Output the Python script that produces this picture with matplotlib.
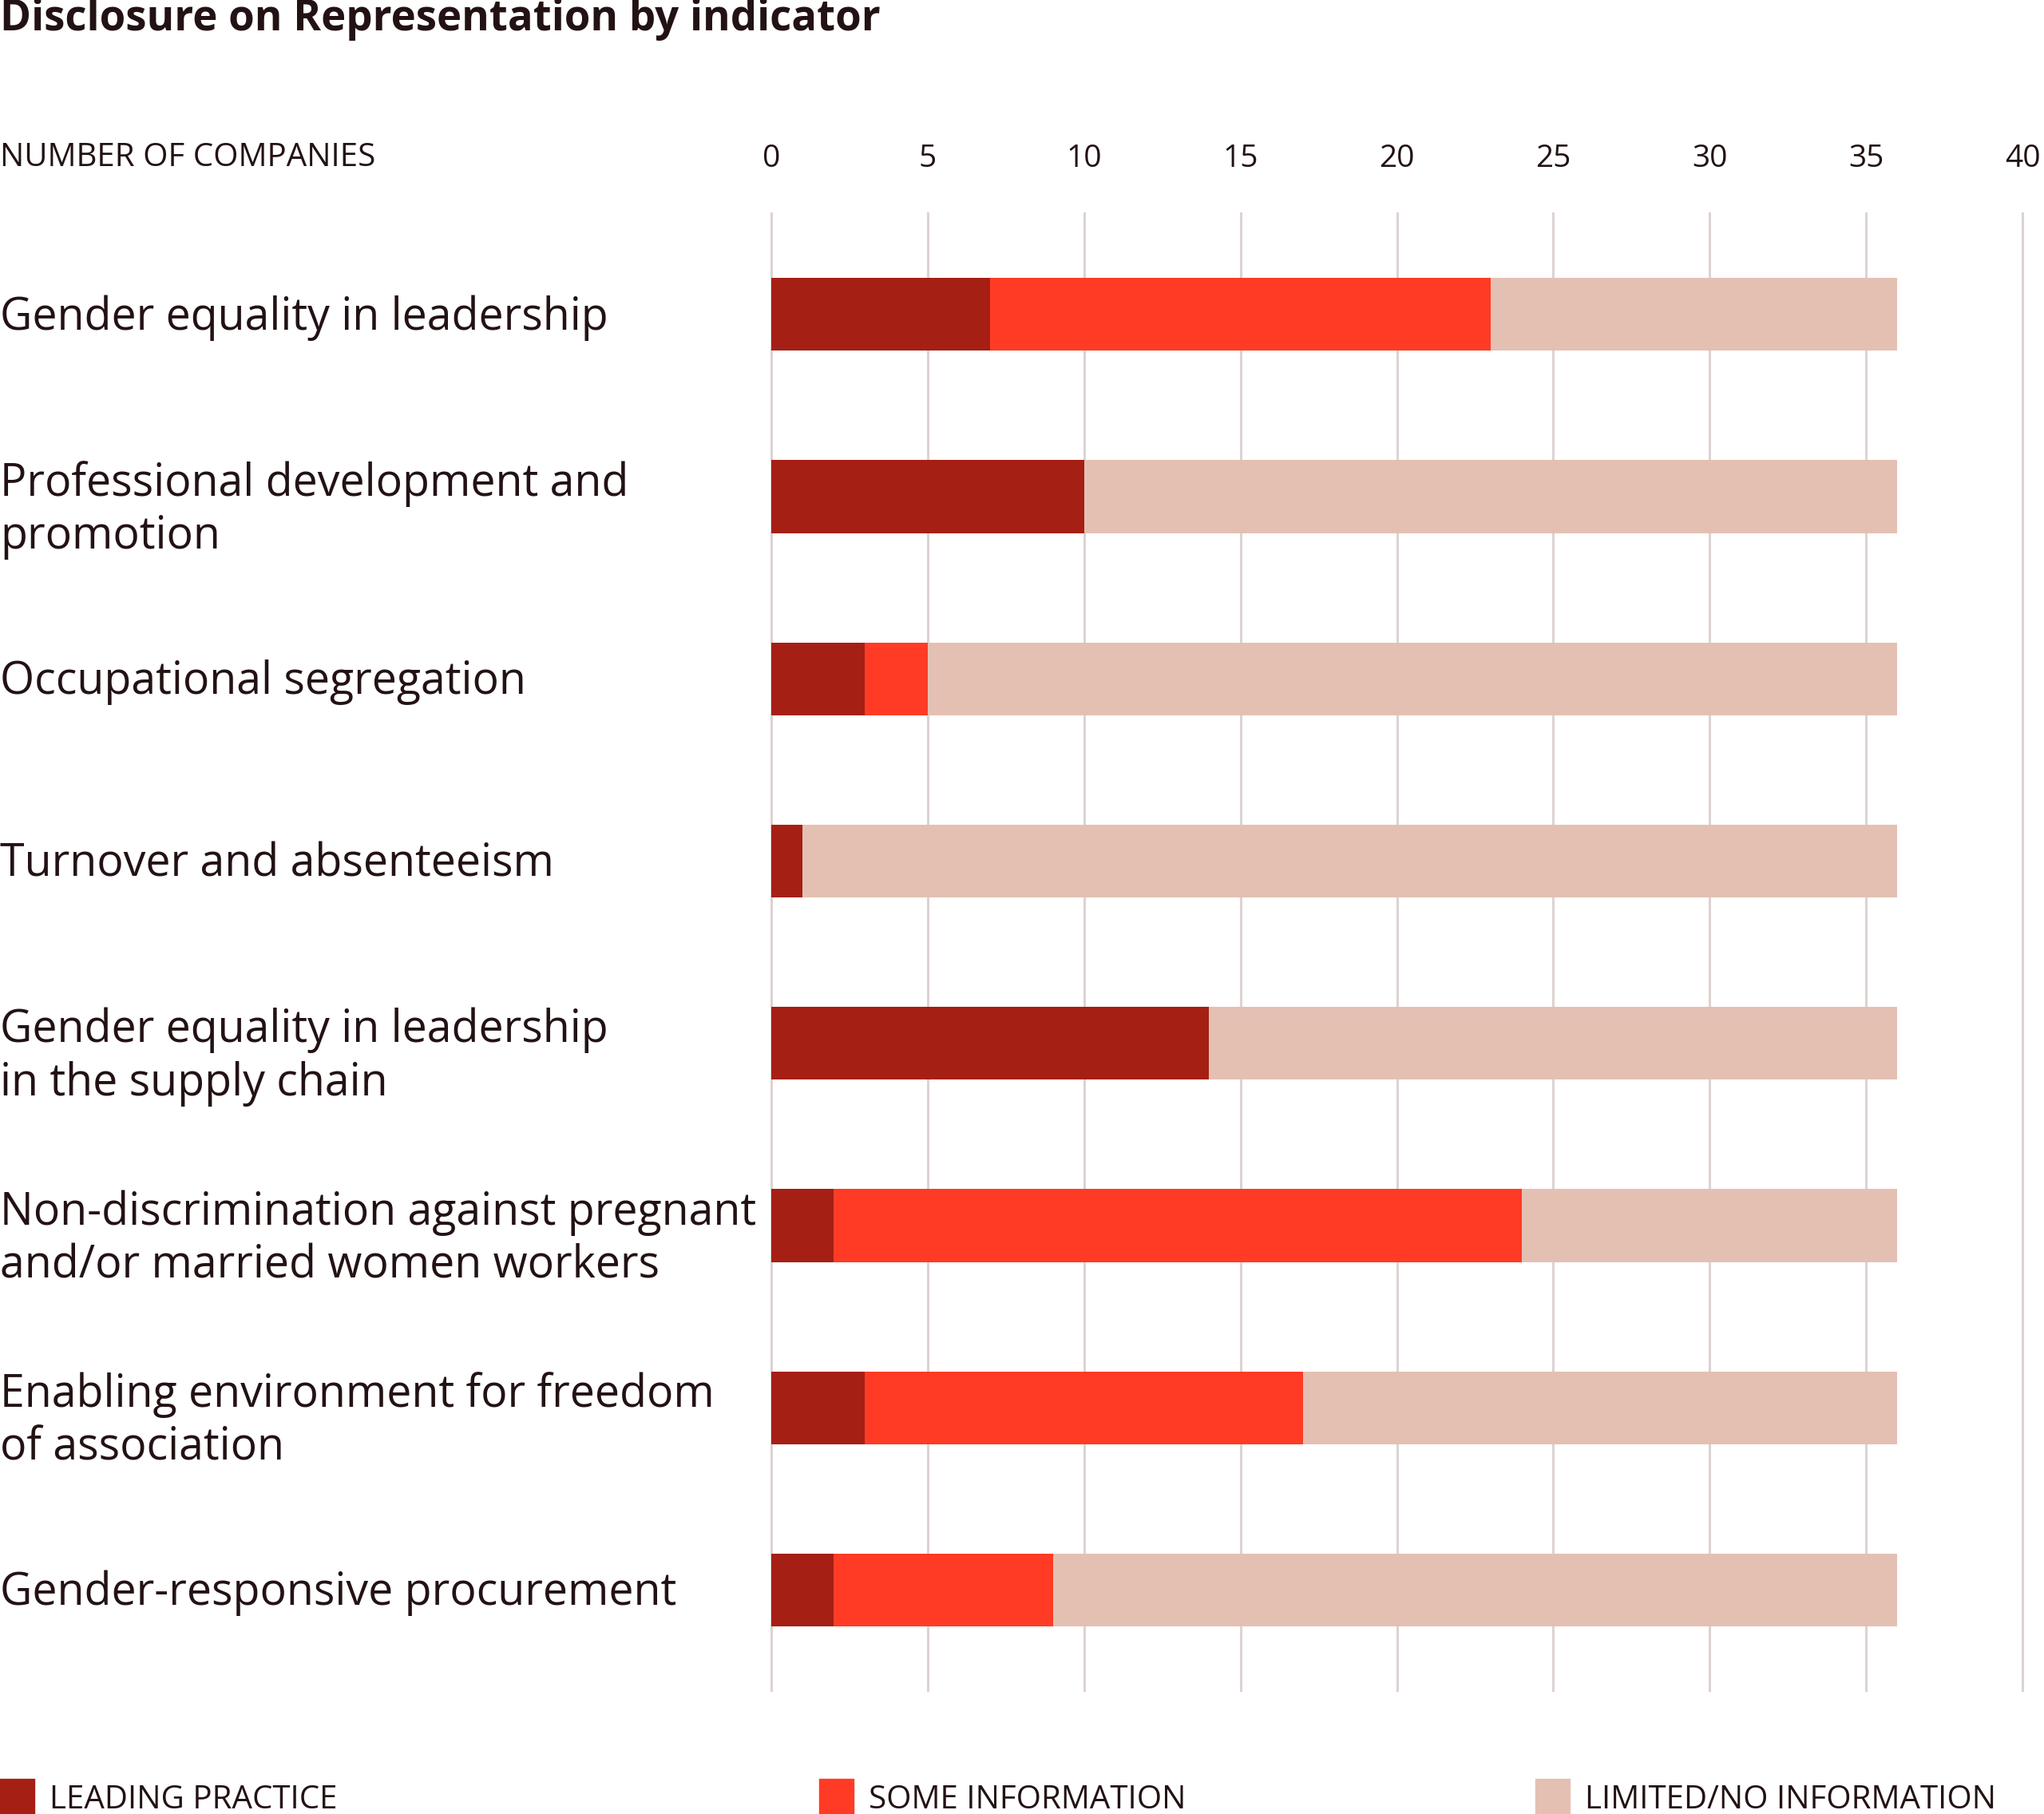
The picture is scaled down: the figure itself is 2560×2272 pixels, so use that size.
import matplotlib.pyplot as plt
from matplotlib.patches import Rectangle
from matplotlib.transforms import blended_transform_factory

indicators = [
    "Gender equality in leadership",
    "Professional development and\npromotion",
    "Occupational segregation",
    "Turnover and absenteeism",
    "Gender equality in leadership\nin the supply chain",
    "Non-discrimination against pregnant\nand/or married women workers",
    "Enabling environment for freedom\nof association",
    "Gender-responsive procurement",
]
leading = [7, 10, 3, 1, 14, 2, 3, 2]
some_info = [16, 0, 2, 0, 0, 22, 14, 7]
limited = [13, 26, 31, 35, 22, 12, 19, 27]
x_ticks = [0, 5, 10, 15, 20, 25, 30, 35, 40]
series_names = ["LEADING PRACTICE", "SOME INFORMATION", "LIMITED/NO INFORMATION"]

colors = ["#a51f14", "#ff3b25", "#e4c0b3"]
text_color = "#231214"
grid_color = "#dcd3d1"

plt.rcParams['font.family'] = ['Open Sans', 'DejaVu Sans']

fig = plt.figure(figsize=(25.6, 22.72), dpi=100)
ax = fig.add_axes([0.3773, 0.0682, 0.6122, 0.8143])

ypos = list(range(len(indicators)))
left = [0] * len(indicators)
for vals, col, name in zip([leading, some_info, limited], colors, series_names):
    ax.barh(ypos, vals, left=left, height=0.4, color=col, label=name, zorder=2)
    left = [a + b for a, b in zip(left, vals)]

ax.set_xlim(0, 40)
ax.set_ylim(len(indicators) - 1 + 0.55, -0.555)
ax.set_xticks(x_ticks)
ax.xaxis.tick_top()
ax.tick_params(axis='x', length=0, pad=35, labelsize=28, labelcolor=text_color)
ax.set_yticks([])
ax.set_axisbelow(True)
ax.grid(axis='x', color=grid_color, lw=2.2)
for gl in ax.get_xgridlines():
    gl.set_clip_on(False)
for s in ax.spines.values():
    s.set_visible(False)

# category labels, left aligned at the figure edge
trans = blended_transform_factory(fig.transFigure, ax.transData)
for i, lab in enumerate(indicators):
    shift = 0.075 if "\n" in lab else 0.018
    ax.text(0.0, i + shift, lab, transform=trans, ha='left', va='center',
            fontsize=40, color=text_color, linespacing=1.22)

fig.text(0.0, 1 - 38 / 2272, "Disclosure on Representation by indicator",
         fontsize=38, fontweight='bold', color=text_color, va='baseline')
fig.text(0.0, 1 - 208 / 2272, "NUMBER OF COMPANIES", fontsize=29,
         color=text_color, va='baseline')

# legend
sq_x = [0, 1026 / 2560, 1923 / 2560]
for x0, col, name in zip(sq_x, colors, series_names):
    fig.add_artist(Rectangle((x0, 0), 43 / 2560, 44 / 2272, color=col,
                             transform=fig.transFigure))
    fig.text(x0 + 62 / 2560, 7 / 2272, name, fontsize=29, color=text_color,
             va='baseline')

fig.savefig("out.png", dpi=100, facecolor='white')
